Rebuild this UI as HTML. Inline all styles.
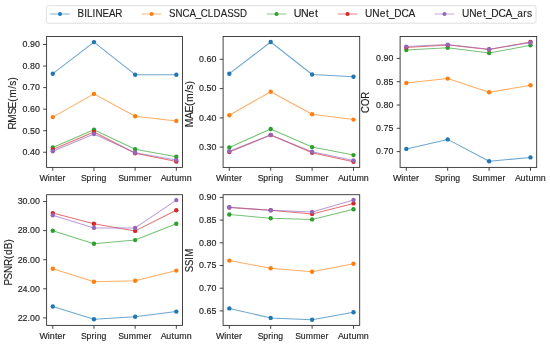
<!DOCTYPE html>
<html><head><meta charset="utf-8"><style>
html,body{margin:0;padding:0;background:#fff;}
svg{display:block;filter:blur(0.3px);}
text{font-family:"Liberation Sans",sans-serif;fill:#1e1e1e;stroke:#1e1e1e;stroke-width:0.14px;}
</style></head><body>
<svg width="550" height="344" viewBox="0 0 550 344">
<rect x="46.35" y="5.7" width="489.62" height="17.5" rx="2" ry="2" fill="#fff" stroke="#d8d8d8" stroke-width="0.85"/>
<line x1="50.25" y1="14.0" x2="69.75" y2="14.0" stroke="#1f77b4" stroke-width="1.05" stroke-opacity="0.55"/>
<circle cx="60" cy="14.0" r="2.05" fill="#1f77b4"/>
<text transform="translate(77.55,17.1) scale(0.9551,1)" x="0.07 7.08 10 15.78 18.82 26.14 32.86 39.61" y="0" font-size="10.29">BILINEAR</text>
<line x1="141.82" y1="14.0" x2="161.32" y2="14.0" stroke="#ff7f0e" stroke-width="1.05" stroke-opacity="0.55"/>
<circle cx="151.57" cy="14.0" r="2.05" fill="#ff7f0e"/>
<text transform="translate(169.12,17.1) scale(0.9427,1)" x="-0.15 6.72 14.2 21.63 28.32 33.67 41.01 47.02 54.83 61.65 68.21 75.19" y="0" font-size="10.29">SNCA_CLDASSD</text>
<line x1="266.76" y1="14.0" x2="286.26" y2="14.0" stroke="#2ca02c" stroke-width="1.05" stroke-opacity="0.55"/>
<circle cx="276.51" cy="14.0" r="2.05" fill="#2ca02c"/>
<text transform="translate(294.06,17.1) scale(1.0348,1)" x="-0.27 6.71 13.98 20.16" y="0" font-size="10.29">UNet</text>
<line x1="337.81" y1="14.0" x2="357.31" y2="14.0" stroke="#d62728" stroke-width="1.05" stroke-opacity="0.55"/>
<circle cx="347.56" cy="14.0" r="2.05" fill="#d62728"/>
<text transform="translate(365.11,17.1) scale(0.9850,1)" x="-0.09 7.23 14.83 21.25 24.23 29.67 36.93 44.06" y="0" font-size="10.29">UNet_DCA</text>
<line x1="434.72" y1="14.0" x2="454.22" y2="14.0" stroke="#9467bd" stroke-width="1.05" stroke-opacity="0.55"/>
<circle cx="444.47" cy="14.0" r="2.05" fill="#9467bd"/>
<text transform="translate(462.02,17.1) scale(0.9882,1)" x="-0.1 7.2 14.78 21.18 24.15 29.56 36.8 43.9 50.31 55.8 62 65.74" y="0" font-size="10.29">UNet_DCA_ars</text>
<polyline points="52.78,73.7 93.96,42.1 135.14,74.7 176.32,74.7" fill="none" stroke="#1f77b4" stroke-width="1.05" stroke-opacity="0.65" stroke-linejoin="round"/>
<circle cx="52.78" cy="73.7" r="2.2" fill="#1f77b4"/>
<circle cx="93.96" cy="42.1" r="2.2" fill="#1f77b4"/>
<circle cx="135.14" cy="74.7" r="2.2" fill="#1f77b4"/>
<circle cx="176.32" cy="74.7" r="2.2" fill="#1f77b4"/>
<polyline points="52.78,117.1 93.96,93.9 135.14,116.3 176.32,120.9" fill="none" stroke="#ff7f0e" stroke-width="1.05" stroke-opacity="0.65" stroke-linejoin="round"/>
<circle cx="52.78" cy="117.1" r="2.2" fill="#ff7f0e"/>
<circle cx="93.96" cy="93.9" r="2.2" fill="#ff7f0e"/>
<circle cx="135.14" cy="116.3" r="2.2" fill="#ff7f0e"/>
<circle cx="176.32" cy="120.9" r="2.2" fill="#ff7f0e"/>
<polyline points="52.78,147.5 93.96,129.7 135.14,149.3 176.32,156.7" fill="none" stroke="#2ca02c" stroke-width="1.05" stroke-opacity="0.65" stroke-linejoin="round"/>
<circle cx="52.78" cy="147.5" r="2.2" fill="#2ca02c"/>
<circle cx="93.96" cy="129.7" r="2.2" fill="#2ca02c"/>
<circle cx="135.14" cy="149.3" r="2.2" fill="#2ca02c"/>
<circle cx="176.32" cy="156.7" r="2.2" fill="#2ca02c"/>
<polyline points="52.78,149.5 93.96,132 135.14,153.3 176.32,161.5" fill="none" stroke="#d62728" stroke-width="1.05" stroke-opacity="0.65" stroke-linejoin="round"/>
<circle cx="52.78" cy="149.5" r="2.2" fill="#d62728"/>
<circle cx="93.96" cy="132" r="2.2" fill="#d62728"/>
<circle cx="135.14" cy="153.3" r="2.2" fill="#d62728"/>
<circle cx="176.32" cy="161.5" r="2.2" fill="#d62728"/>
<polyline points="52.78,151.3 93.96,134 135.14,152.8 176.32,160" fill="none" stroke="#9467bd" stroke-width="1.05" stroke-opacity="0.65" stroke-linejoin="round"/>
<circle cx="52.78" cy="151.3" r="2.2" fill="#9467bd"/>
<circle cx="93.96" cy="134" r="2.2" fill="#9467bd"/>
<circle cx="135.14" cy="152.8" r="2.2" fill="#9467bd"/>
<circle cx="176.32" cy="160" r="2.2" fill="#9467bd"/>
<rect x="46.6" y="36.5" width="135.9" height="130.9" fill="none" stroke="#303030" stroke-width="0.9"/>
<line x1="52.78" y1="167.4" x2="52.78" y2="170.8" stroke="#303030" stroke-width="0.9"/>
<text transform="translate(52.78,180.5) scale(1.0888,1)" x="-12.14 -4.69 -2.81 1.97 4.42 8.98" y="0" font-size="8.17">Winter</text>
<line x1="93.96" y1="167.4" x2="93.96" y2="170.8" stroke="#303030" stroke-width="0.9"/>
<text transform="translate(93.96,180.5) scale(1.0582,1)" x="-12.2 -7.11 -2.37 0.6 2.57 7.21" y="0" font-size="8.17">Spring</text>
<line x1="135.14" y1="167.4" x2="135.14" y2="170.8" stroke="#303030" stroke-width="0.9"/>
<text transform="translate(135.14,180.5) scale(1.0645,1)" x="-15.84 -10.78 -6.06 1.02 7.93 12.57" y="0" font-size="8.17">Summer</text>
<line x1="176.32" y1="167.4" x2="176.32" y2="170.8" stroke="#303030" stroke-width="0.9"/>
<text transform="translate(176.32,180.5) scale(1.0869,1)" x="-14.36 -9.21 -4.42 -1.91 2.69 9.54" y="0" font-size="8.17">Autumn</text>
<line x1="43.2" y1="44.5" x2="46.6" y2="44.5" stroke="#303030" stroke-width="0.9"/>
<text transform="translate(39.8,47.3) scale(1.0844,1)" x="-15.89 -11.35 -9.08 -4.54" y="0" font-size="8.17">0.90</text>
<line x1="43.2" y1="66.05" x2="46.6" y2="66.05" stroke="#303030" stroke-width="0.9"/>
<text transform="translate(39.8,68.85) scale(1.0844,1)" x="-15.89 -11.35 -9.08 -4.54" y="0" font-size="8.17">0.80</text>
<line x1="43.2" y1="87.6" x2="46.6" y2="87.6" stroke="#303030" stroke-width="0.9"/>
<text transform="translate(39.8,90.4) scale(1.0844,1)" x="-15.89 -11.35 -9.08 -4.54" y="0" font-size="8.17">0.70</text>
<line x1="43.2" y1="109.15" x2="46.6" y2="109.15" stroke="#303030" stroke-width="0.9"/>
<text transform="translate(39.8,111.95) scale(1.0844,1)" x="-15.89 -11.35 -9.08 -4.54" y="0" font-size="8.17">0.60</text>
<line x1="43.2" y1="130.7" x2="46.6" y2="130.7" stroke="#303030" stroke-width="0.9"/>
<text transform="translate(39.8,133.5) scale(1.0844,1)" x="-15.89 -11.35 -9.08 -4.54" y="0" font-size="8.17">0.50</text>
<line x1="43.2" y1="152.25" x2="46.6" y2="152.25" stroke="#303030" stroke-width="0.9"/>
<text transform="translate(39.8,155.05) scale(1.0844,1)" x="-15.89 -11.35 -9.08 -4.54" y="0" font-size="8.17">0.40</text>
<g transform="translate(15.9,103.05) rotate(-90)"><text transform="translate(0,0) scale(0.9975,1)" x="-26.61 -19.64 -11.55 -5.43 1.22 5.27 14.44 17.46 22.71" y="0" font-size="10.18">RMSE(m/s)</text></g>
<polyline points="229.31,73.7 270.7,42 312.1,74.5 353.49,76.8" fill="none" stroke="#1f77b4" stroke-width="1.05" stroke-opacity="0.65" stroke-linejoin="round"/>
<circle cx="229.31" cy="73.7" r="2.2" fill="#1f77b4"/>
<circle cx="270.7" cy="42" r="2.2" fill="#1f77b4"/>
<circle cx="312.1" cy="74.5" r="2.2" fill="#1f77b4"/>
<circle cx="353.49" cy="76.8" r="2.2" fill="#1f77b4"/>
<polyline points="229.31,115.2 270.7,91.7 312.1,114.2 353.49,119.6" fill="none" stroke="#ff7f0e" stroke-width="1.05" stroke-opacity="0.65" stroke-linejoin="round"/>
<circle cx="229.31" cy="115.2" r="2.2" fill="#ff7f0e"/>
<circle cx="270.7" cy="91.7" r="2.2" fill="#ff7f0e"/>
<circle cx="312.1" cy="114.2" r="2.2" fill="#ff7f0e"/>
<circle cx="353.49" cy="119.6" r="2.2" fill="#ff7f0e"/>
<polyline points="229.31,147.4 270.7,129 312.1,147.1 353.49,155.1" fill="none" stroke="#2ca02c" stroke-width="1.05" stroke-opacity="0.65" stroke-linejoin="round"/>
<circle cx="229.31" cy="147.4" r="2.2" fill="#2ca02c"/>
<circle cx="270.7" cy="129" r="2.2" fill="#2ca02c"/>
<circle cx="312.1" cy="147.1" r="2.2" fill="#2ca02c"/>
<circle cx="353.49" cy="155.1" r="2.2" fill="#2ca02c"/>
<polyline points="229.31,152 270.7,135 312.1,152.8 353.49,161.8" fill="none" stroke="#d62728" stroke-width="1.05" stroke-opacity="0.65" stroke-linejoin="round"/>
<circle cx="229.31" cy="152" r="2.2" fill="#d62728"/>
<circle cx="270.7" cy="135" r="2.2" fill="#d62728"/>
<circle cx="312.1" cy="152.8" r="2.2" fill="#d62728"/>
<circle cx="353.49" cy="161.8" r="2.2" fill="#d62728"/>
<polyline points="229.31,151.2 270.7,135 312.1,151.8 353.49,160.5" fill="none" stroke="#9467bd" stroke-width="1.05" stroke-opacity="0.65" stroke-linejoin="round"/>
<circle cx="229.31" cy="151.2" r="2.2" fill="#9467bd"/>
<circle cx="270.7" cy="135" r="2.2" fill="#9467bd"/>
<circle cx="312.1" cy="151.8" r="2.2" fill="#9467bd"/>
<circle cx="353.49" cy="160.5" r="2.2" fill="#9467bd"/>
<rect x="223.1" y="36.5" width="136.6" height="130.9" fill="none" stroke="#303030" stroke-width="0.9"/>
<line x1="229.31" y1="167.4" x2="229.31" y2="170.8" stroke="#303030" stroke-width="0.9"/>
<text transform="translate(229.31,180.5) scale(1.0888,1)" x="-12.14 -4.69 -2.81 1.97 4.42 8.98" y="0" font-size="8.17">Winter</text>
<line x1="270.7" y1="167.4" x2="270.7" y2="170.8" stroke="#303030" stroke-width="0.9"/>
<text transform="translate(270.7,180.5) scale(1.0582,1)" x="-12.2 -7.11 -2.37 0.6 2.57 7.21" y="0" font-size="8.17">Spring</text>
<line x1="312.1" y1="167.4" x2="312.1" y2="170.8" stroke="#303030" stroke-width="0.9"/>
<text transform="translate(312.1,180.5) scale(1.0645,1)" x="-15.84 -10.78 -6.06 1.02 7.93 12.57" y="0" font-size="8.17">Summer</text>
<line x1="353.49" y1="167.4" x2="353.49" y2="170.8" stroke="#303030" stroke-width="0.9"/>
<text transform="translate(353.49,180.5) scale(1.0869,1)" x="-14.36 -9.21 -4.42 -1.91 2.69 9.54" y="0" font-size="8.17">Autumn</text>
<line x1="219.7" y1="59.3" x2="223.1" y2="59.3" stroke="#303030" stroke-width="0.9"/>
<text transform="translate(216.3,62.1) scale(1.0844,1)" x="-15.89 -11.35 -9.08 -4.54" y="0" font-size="8.17">0.60</text>
<line x1="219.7" y1="88.6" x2="223.1" y2="88.6" stroke="#303030" stroke-width="0.9"/>
<text transform="translate(216.3,91.4) scale(1.0844,1)" x="-15.89 -11.35 -9.08 -4.54" y="0" font-size="8.17">0.50</text>
<line x1="219.7" y1="117.9" x2="223.1" y2="117.9" stroke="#303030" stroke-width="0.9"/>
<text transform="translate(216.3,120.7) scale(1.0844,1)" x="-15.89 -11.35 -9.08 -4.54" y="0" font-size="8.17">0.40</text>
<line x1="219.7" y1="147.1" x2="223.1" y2="147.1" stroke="#303030" stroke-width="0.9"/>
<text transform="translate(216.3,149.9) scale(1.0844,1)" x="-15.89 -11.35 -9.08 -4.54" y="0" font-size="8.17">0.30</text>
<g transform="translate(192.7,103.95) rotate(-90)"><text transform="translate(0,0) scale(1.0219,1)" x="-22.79 -14.64 -8.43 -1.9 2 11.01 13.93 19.08" y="0" font-size="10.18">MAE(m/s)</text></g>
<polyline points="406.31,148.9 447.7,139.4 489.1,161.3 530.49,157.4" fill="none" stroke="#1f77b4" stroke-width="1.05" stroke-opacity="0.65" stroke-linejoin="round"/>
<circle cx="406.31" cy="148.9" r="2.2" fill="#1f77b4"/>
<circle cx="447.7" cy="139.4" r="2.2" fill="#1f77b4"/>
<circle cx="489.1" cy="161.3" r="2.2" fill="#1f77b4"/>
<circle cx="530.49" cy="157.4" r="2.2" fill="#1f77b4"/>
<polyline points="406.31,83 447.7,78.6 489.1,92.3 530.49,85.3" fill="none" stroke="#ff7f0e" stroke-width="1.05" stroke-opacity="0.65" stroke-linejoin="round"/>
<circle cx="406.31" cy="83" r="2.2" fill="#ff7f0e"/>
<circle cx="447.7" cy="78.6" r="2.2" fill="#ff7f0e"/>
<circle cx="489.1" cy="92.3" r="2.2" fill="#ff7f0e"/>
<circle cx="530.49" cy="85.3" r="2.2" fill="#ff7f0e"/>
<polyline points="406.31,50 447.7,47.7 489.1,53.1 530.49,45.3" fill="none" stroke="#2ca02c" stroke-width="1.05" stroke-opacity="0.65" stroke-linejoin="round"/>
<circle cx="406.31" cy="50" r="2.2" fill="#2ca02c"/>
<circle cx="447.7" cy="47.7" r="2.2" fill="#2ca02c"/>
<circle cx="489.1" cy="53.1" r="2.2" fill="#2ca02c"/>
<circle cx="530.49" cy="45.3" r="2.2" fill="#2ca02c"/>
<polyline points="406.31,47.4 447.7,45.1 489.1,49.5 530.49,42" fill="none" stroke="#d62728" stroke-width="1.05" stroke-opacity="0.65" stroke-linejoin="round"/>
<circle cx="406.31" cy="47.4" r="2.2" fill="#d62728"/>
<circle cx="447.7" cy="45.1" r="2.2" fill="#d62728"/>
<circle cx="489.1" cy="49.5" r="2.2" fill="#d62728"/>
<circle cx="530.49" cy="42" r="2.2" fill="#d62728"/>
<polyline points="406.31,46.6 447.7,44.6 489.1,49.2 530.49,42.7" fill="none" stroke="#9467bd" stroke-width="1.05" stroke-opacity="0.65" stroke-linejoin="round"/>
<circle cx="406.31" cy="46.6" r="2.2" fill="#9467bd"/>
<circle cx="447.7" cy="44.6" r="2.2" fill="#9467bd"/>
<circle cx="489.1" cy="49.2" r="2.2" fill="#9467bd"/>
<circle cx="530.49" cy="42.7" r="2.2" fill="#9467bd"/>
<rect x="400.1" y="36.5" width="136.6" height="130.9" fill="none" stroke="#303030" stroke-width="0.9"/>
<line x1="406.31" y1="167.4" x2="406.31" y2="170.8" stroke="#303030" stroke-width="0.9"/>
<text transform="translate(406.31,180.5) scale(1.0888,1)" x="-12.14 -4.69 -2.81 1.97 4.42 8.98" y="0" font-size="8.17">Winter</text>
<line x1="447.7" y1="167.4" x2="447.7" y2="170.8" stroke="#303030" stroke-width="0.9"/>
<text transform="translate(447.7,180.5) scale(1.0582,1)" x="-12.2 -7.11 -2.37 0.6 2.57 7.21" y="0" font-size="8.17">Spring</text>
<line x1="489.1" y1="167.4" x2="489.1" y2="170.8" stroke="#303030" stroke-width="0.9"/>
<text transform="translate(489.1,180.5) scale(1.0645,1)" x="-15.84 -10.78 -6.06 1.02 7.93 12.57" y="0" font-size="8.17">Summer</text>
<line x1="530.49" y1="167.4" x2="530.49" y2="170.8" stroke="#303030" stroke-width="0.9"/>
<text transform="translate(530.49,180.5) scale(1.0869,1)" x="-14.36 -9.21 -4.42 -1.91 2.69 9.54" y="0" font-size="8.17">Autumn</text>
<line x1="396.7" y1="58.4" x2="400.1" y2="58.4" stroke="#303030" stroke-width="0.9"/>
<text transform="translate(393.3,61.2) scale(1.0844,1)" x="-15.89 -11.35 -9.08 -4.54" y="0" font-size="8.17">0.90</text>
<line x1="396.7" y1="81.7" x2="400.1" y2="81.7" stroke="#303030" stroke-width="0.9"/>
<text transform="translate(393.3,84.5) scale(1.0844,1)" x="-15.89 -11.35 -9.08 -4.54" y="0" font-size="8.17">0.85</text>
<line x1="396.7" y1="105" x2="400.1" y2="105" stroke="#303030" stroke-width="0.9"/>
<text transform="translate(393.3,107.8) scale(1.0844,1)" x="-15.89 -11.35 -9.08 -4.54" y="0" font-size="8.17">0.80</text>
<line x1="396.7" y1="128.3" x2="400.1" y2="128.3" stroke="#303030" stroke-width="0.9"/>
<text transform="translate(393.3,131.1) scale(1.0844,1)" x="-15.89 -11.35 -9.08 -4.54" y="0" font-size="8.17">0.75</text>
<line x1="396.7" y1="151.6" x2="400.1" y2="151.6" stroke="#303030" stroke-width="0.9"/>
<text transform="translate(393.3,154.4) scale(1.0844,1)" x="-15.89 -11.35 -9.08 -4.54" y="0" font-size="8.17">0.70</text>
<g transform="translate(369.4,102.45) rotate(-90)"><text transform="translate(0,0) scale(0.9300,1)" x="-11.37 -3.94 4.03" y="0" font-size="10.18">COR</text></g>
<polyline points="52.78,306.5 93.96,319.2 135.14,316.7 176.32,311.6" fill="none" stroke="#1f77b4" stroke-width="1.05" stroke-opacity="0.65" stroke-linejoin="round"/>
<circle cx="52.78" cy="306.5" r="2.2" fill="#1f77b4"/>
<circle cx="93.96" cy="319.2" r="2.2" fill="#1f77b4"/>
<circle cx="135.14" cy="316.7" r="2.2" fill="#1f77b4"/>
<circle cx="176.32" cy="311.6" r="2.2" fill="#1f77b4"/>
<polyline points="52.78,268.8 93.96,281.8 135.14,280.8 176.32,270.6" fill="none" stroke="#ff7f0e" stroke-width="1.05" stroke-opacity="0.65" stroke-linejoin="round"/>
<circle cx="52.78" cy="268.8" r="2.2" fill="#ff7f0e"/>
<circle cx="93.96" cy="281.8" r="2.2" fill="#ff7f0e"/>
<circle cx="135.14" cy="280.8" r="2.2" fill="#ff7f0e"/>
<circle cx="176.32" cy="270.6" r="2.2" fill="#ff7f0e"/>
<polyline points="52.78,230.7 93.96,243.7 135.14,240.1 176.32,223.8" fill="none" stroke="#2ca02c" stroke-width="1.05" stroke-opacity="0.65" stroke-linejoin="round"/>
<circle cx="52.78" cy="230.7" r="2.2" fill="#2ca02c"/>
<circle cx="93.96" cy="243.7" r="2.2" fill="#2ca02c"/>
<circle cx="135.14" cy="240.1" r="2.2" fill="#2ca02c"/>
<circle cx="176.32" cy="223.8" r="2.2" fill="#2ca02c"/>
<polyline points="52.78,213.1 93.96,223.8 135.14,230.9 176.32,210.3" fill="none" stroke="#d62728" stroke-width="1.05" stroke-opacity="0.65" stroke-linejoin="round"/>
<circle cx="52.78" cy="213.1" r="2.2" fill="#d62728"/>
<circle cx="93.96" cy="223.8" r="2.2" fill="#d62728"/>
<circle cx="135.14" cy="230.9" r="2.2" fill="#d62728"/>
<circle cx="176.32" cy="210.3" r="2.2" fill="#d62728"/>
<polyline points="52.78,215.2 93.96,227.9 135.14,227.9 176.32,200.1" fill="none" stroke="#9467bd" stroke-width="1.05" stroke-opacity="0.65" stroke-linejoin="round"/>
<circle cx="52.78" cy="215.2" r="2.2" fill="#9467bd"/>
<circle cx="93.96" cy="227.9" r="2.2" fill="#9467bd"/>
<circle cx="135.14" cy="227.9" r="2.2" fill="#9467bd"/>
<circle cx="176.32" cy="200.1" r="2.2" fill="#9467bd"/>
<rect x="46.6" y="194.7" width="135.9" height="130.7" fill="none" stroke="#303030" stroke-width="0.9"/>
<line x1="52.78" y1="325.4" x2="52.78" y2="328.8" stroke="#303030" stroke-width="0.9"/>
<text transform="translate(52.78,338.9) scale(1.0888,1)" x="-12.14 -4.69 -2.81 1.97 4.42 8.98" y="0" font-size="8.17">Winter</text>
<line x1="93.96" y1="325.4" x2="93.96" y2="328.8" stroke="#303030" stroke-width="0.9"/>
<text transform="translate(93.96,338.9) scale(1.0582,1)" x="-12.2 -7.11 -2.37 0.6 2.57 7.21" y="0" font-size="8.17">Spring</text>
<line x1="135.14" y1="325.4" x2="135.14" y2="328.8" stroke="#303030" stroke-width="0.9"/>
<text transform="translate(135.14,338.9) scale(1.0645,1)" x="-15.84 -10.78 -6.06 1.02 7.93 12.57" y="0" font-size="8.17">Summer</text>
<line x1="176.32" y1="325.4" x2="176.32" y2="328.8" stroke="#303030" stroke-width="0.9"/>
<text transform="translate(176.32,338.9) scale(1.0869,1)" x="-14.36 -9.21 -4.42 -1.91 2.69 9.54" y="0" font-size="8.17">Autumn</text>
<line x1="43.2" y1="201.5" x2="46.6" y2="201.5" stroke="#303030" stroke-width="0.9"/>
<text transform="translate(39.8,204.3) scale(1.0844,1)" x="-20.43 -15.89 -11.35 -9.08 -4.54" y="0" font-size="8.17">30.00</text>
<line x1="43.2" y1="230.6" x2="46.6" y2="230.6" stroke="#303030" stroke-width="0.9"/>
<text transform="translate(39.8,233.4) scale(1.0844,1)" x="-20.43 -15.89 -11.35 -9.08 -4.54" y="0" font-size="8.17">28.00</text>
<line x1="43.2" y1="259.7" x2="46.6" y2="259.7" stroke="#303030" stroke-width="0.9"/>
<text transform="translate(39.8,262.5) scale(1.0844,1)" x="-20.43 -15.89 -11.35 -9.08 -4.54" y="0" font-size="8.17">26.00</text>
<line x1="43.2" y1="288.8" x2="46.6" y2="288.8" stroke="#303030" stroke-width="0.9"/>
<text transform="translate(39.8,291.6) scale(1.0844,1)" x="-20.43 -15.89 -11.35 -9.08 -4.54" y="0" font-size="8.17">24.00</text>
<line x1="43.2" y1="317.9" x2="46.6" y2="317.9" stroke="#303030" stroke-width="0.9"/>
<text transform="translate(39.8,320.7) scale(1.0844,1)" x="-20.43 -15.89 -11.35 -9.08 -4.54" y="0" font-size="8.17">22.00</text>
<g transform="translate(12.3,261.95) rotate(-90)"><text transform="translate(0,0) scale(0.9711,1)" x="-24.16 -18.01 -11.42 -4.25 3.12 7.08 13.08 20.13" y="0" font-size="10.18">PSNR(dB)</text></g>
<polyline points="229.31,308.4 270.7,317.9 312.1,319.7 353.49,312.2" fill="none" stroke="#1f77b4" stroke-width="1.05" stroke-opacity="0.65" stroke-linejoin="round"/>
<circle cx="229.31" cy="308.4" r="2.2" fill="#1f77b4"/>
<circle cx="270.7" cy="317.9" r="2.2" fill="#1f77b4"/>
<circle cx="312.1" cy="319.7" r="2.2" fill="#1f77b4"/>
<circle cx="353.49" cy="312.2" r="2.2" fill="#1f77b4"/>
<polyline points="229.31,260.6 270.7,268.3 312.1,271.7 353.49,263.7" fill="none" stroke="#ff7f0e" stroke-width="1.05" stroke-opacity="0.65" stroke-linejoin="round"/>
<circle cx="229.31" cy="260.6" r="2.2" fill="#ff7f0e"/>
<circle cx="270.7" cy="268.3" r="2.2" fill="#ff7f0e"/>
<circle cx="312.1" cy="271.7" r="2.2" fill="#ff7f0e"/>
<circle cx="353.49" cy="263.7" r="2.2" fill="#ff7f0e"/>
<polyline points="229.31,214.5 270.7,218.3 312.1,219.4 353.49,209.3" fill="none" stroke="#2ca02c" stroke-width="1.05" stroke-opacity="0.65" stroke-linejoin="round"/>
<circle cx="229.31" cy="214.5" r="2.2" fill="#2ca02c"/>
<circle cx="270.7" cy="218.3" r="2.2" fill="#2ca02c"/>
<circle cx="312.1" cy="219.4" r="2.2" fill="#2ca02c"/>
<circle cx="353.49" cy="209.3" r="2.2" fill="#2ca02c"/>
<polyline points="229.31,207.5 270.7,210.3 312.1,213.9 353.49,203.4" fill="none" stroke="#d62728" stroke-width="1.05" stroke-opacity="0.65" stroke-linejoin="round"/>
<circle cx="229.31" cy="207.5" r="2.2" fill="#d62728"/>
<circle cx="270.7" cy="210.3" r="2.2" fill="#d62728"/>
<circle cx="312.1" cy="213.9" r="2.2" fill="#d62728"/>
<circle cx="353.49" cy="203.4" r="2.2" fill="#d62728"/>
<polyline points="229.31,207.2 270.7,210.3 312.1,211.9 353.49,200" fill="none" stroke="#9467bd" stroke-width="1.05" stroke-opacity="0.65" stroke-linejoin="round"/>
<circle cx="229.31" cy="207.2" r="2.2" fill="#9467bd"/>
<circle cx="270.7" cy="210.3" r="2.2" fill="#9467bd"/>
<circle cx="312.1" cy="211.9" r="2.2" fill="#9467bd"/>
<circle cx="353.49" cy="200" r="2.2" fill="#9467bd"/>
<rect x="223.1" y="194.7" width="136.6" height="130.7" fill="none" stroke="#303030" stroke-width="0.9"/>
<line x1="229.31" y1="325.4" x2="229.31" y2="328.8" stroke="#303030" stroke-width="0.9"/>
<text transform="translate(229.31,338.9) scale(1.0888,1)" x="-12.14 -4.69 -2.81 1.97 4.42 8.98" y="0" font-size="8.17">Winter</text>
<line x1="270.7" y1="325.4" x2="270.7" y2="328.8" stroke="#303030" stroke-width="0.9"/>
<text transform="translate(270.7,338.9) scale(1.0582,1)" x="-12.2 -7.11 -2.37 0.6 2.57 7.21" y="0" font-size="8.17">Spring</text>
<line x1="312.1" y1="325.4" x2="312.1" y2="328.8" stroke="#303030" stroke-width="0.9"/>
<text transform="translate(312.1,338.9) scale(1.0645,1)" x="-15.84 -10.78 -6.06 1.02 7.93 12.57" y="0" font-size="8.17">Summer</text>
<line x1="353.49" y1="325.4" x2="353.49" y2="328.8" stroke="#303030" stroke-width="0.9"/>
<text transform="translate(353.49,338.9) scale(1.0869,1)" x="-14.36 -9.21 -4.42 -1.91 2.69 9.54" y="0" font-size="8.17">Autumn</text>
<line x1="219.7" y1="197.4" x2="223.1" y2="197.4" stroke="#303030" stroke-width="0.9"/>
<text transform="translate(216.3,200.2) scale(1.0844,1)" x="-15.89 -11.35 -9.08 -4.54" y="0" font-size="8.17">0.90</text>
<line x1="219.7" y1="220.1" x2="223.1" y2="220.1" stroke="#303030" stroke-width="0.9"/>
<text transform="translate(216.3,222.9) scale(1.0844,1)" x="-15.89 -11.35 -9.08 -4.54" y="0" font-size="8.17">0.85</text>
<line x1="219.7" y1="242.8" x2="223.1" y2="242.8" stroke="#303030" stroke-width="0.9"/>
<text transform="translate(216.3,245.6) scale(1.0844,1)" x="-15.89 -11.35 -9.08 -4.54" y="0" font-size="8.17">0.80</text>
<line x1="219.7" y1="265.5" x2="223.1" y2="265.5" stroke="#303030" stroke-width="0.9"/>
<text transform="translate(216.3,268.3) scale(1.0844,1)" x="-15.89 -11.35 -9.08 -4.54" y="0" font-size="8.17">0.75</text>
<line x1="219.7" y1="288.2" x2="223.1" y2="288.2" stroke="#303030" stroke-width="0.9"/>
<text transform="translate(216.3,291) scale(1.0844,1)" x="-15.89 -11.35 -9.08 -4.54" y="0" font-size="8.17">0.70</text>
<line x1="219.7" y1="310.9" x2="223.1" y2="310.9" stroke="#303030" stroke-width="0.9"/>
<text transform="translate(216.3,313.7) scale(1.0844,1)" x="-15.89 -11.35 -9.08 -4.54" y="0" font-size="8.17">0.65</text>
<g transform="translate(193.3,260.35) rotate(-90)"><text transform="translate(0,0) scale(0.9411,1)" x="-12.59 -6.08 0.67 3.78" y="0" font-size="10.18">SSIM</text></g>
</svg>
</body></html>
